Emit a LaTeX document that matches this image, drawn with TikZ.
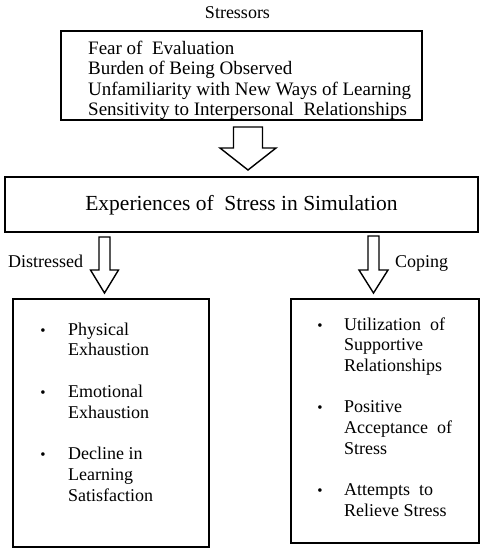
\documentclass[tikz,border=0pt]{standalone}
\usepackage{fontspec}
\setmainfont{Liberation Serif}
\newcommand\hollowdown[6]{%
  \draw[blk] (#1-#2,#4) -- (#1+#2,#4) -- (#1+#2,#5) -- (#1+#3,#5) -- (#1,#6) -- (#1-#3,#5) -- (#1-#2,#5) -- cycle;}
\begin{document}
\begin{tikzpicture}[x=1pt,y=-1pt,
  box/.style={draw, line width=1.8pt, inner sep=0pt},
  blk/.style={draw, line width=1.4pt, line join=miter},
  lbl/.style={inner sep=0pt, font=\fontsize{18}{20.75}\selectfont},
  item/.style={inner sep=0pt, align=left, font=\fontsize{18}{20.75}\selectfont},
  itemr/.style={inner sep=0pt, align=left, font=\fontsize{18}{20.7}\selectfont},
  bul/.style={inner sep=0pt, anchor=base, font=\fontsize{15}{18}\selectfont},
]
\useasboundingbox (0,0) rectangle (487,550);
% stressors
\node[lbl, anchor=base] (stressors) at (237.5,18) {Stressors};
\node[box, minimum width=361pt, minimum height=89pt] (stbox) at (241.5,75.5) {};
% anchor base = baseline of the last line
\node[inner sep=0pt, align=left, anchor=base west, font=\fontsize{19}{20.6}\selectfont] (stlist) at (88,115.8)
  {Fear of~ Evaluation\\Burden of Being Observed\\Unfamiliarity with New Ways of Learning\\Sensitivity to Interpersonal~ Relationships};
\hollowdown{248}{14.5}{28}{127}{148}{170}
% middle
\node[box, minimum width=473pt, minimum height=55pt] (mid) at (241.5,204.5) {};
\node[inner sep=0pt, anchor=base, font=\fontsize{21.5}{24}\selectfont] (midtext) at (241.5,210) {Experiences of~ Stress in Simulation};
% branch arrows
\hollowdown{104.5}{5.5}{14}{237}{270}{293}
\hollowdown{373.5}{5.5}{14.5}{236}{270}{293}
\node[lbl, anchor=base west] (distressed) at (8,267) {Distressed};
\node[lbl, anchor=base west] (coping) at (395,267) {Coping};
% left box
\node[box, minimum width=196pt, minimum height=248pt] (lbox) at (111,423) {};
\node[bul] (lb1) at (43,335) {\textbullet};
\node[bul] (lb2) at (43,397.4) {\textbullet};
\node[bul] (lb3) at (43,459.8) {\textbullet};
\node[item, anchor=base west] (li1) at (68,355.75) {Physical\\Exhaustion};
\node[item, anchor=base west] (li2) at (68,418.15) {Emotional\\Exhaustion};
\node[item, anchor=base west] (li3) at (68,501.3) {Decline in\\Learning\\Satisfaction};
% right box
\node[box, minimum width=188pt, minimum height=244pt] (rbox) at (385,421) {};
\node[bul] (rb1) at (320,330) {\textbullet};
\node[bul] (rb2) at (320,412.8) {\textbullet};
\node[bul] (rb3) at (320,495.6) {\textbullet};
\node[itemr, anchor=base west] (ri1) at (344,371.4) {Utilization~ of\\Supportive\\Relationships};
\node[itemr, anchor=base west] (ri2) at (344,454.2) {Positive\\Acceptance~ of\\Stress};
\node[itemr, anchor=base west] (ri3) at (344,516.3) {Attempts~ to\\Relieve Stress};
\end{tikzpicture}
\end{document}
